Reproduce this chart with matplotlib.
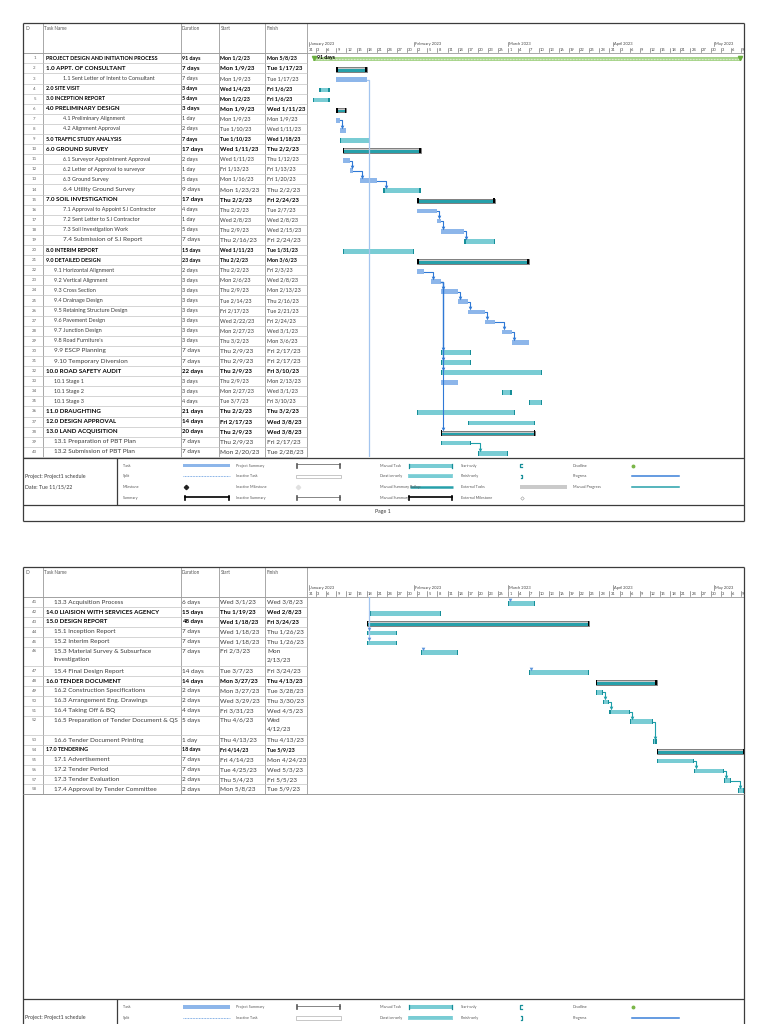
#!/usr/bin/python
import matplotlib
matplotlib.use('Agg')
from matplotlib import pyplot as plt
from matplotlib.patches import Rectangle
import matplotlib.dates as mdates
import pandas as pd

plt.rcParams['font.family'] = ['Lato', 'DejaVu Sans']

# ---------------- page 1 ----------------
ids1 = list(range(1, 41))
names1 = [
	'PROJECT DESIGN AND INITIATION PROCESS', '1.0 APPT. OF CONSULTANT',
	'1.1 Sent Letter of Intent to Consultant', '2.0 SITE VISIT', '3.0 INCEPTION REPORT',
	'4.0 PRELIMINARY DESIGN', '4.1 Preliminary Alignment', '4.2 Alignment Approval',
	'5.0 TRAFFIC STUDY ANALYSIS', '6.0 GROUND SURVEY', '6.1 Surveyor Appointment Approval',
	'6.2 Letter of Approval to surveyor', '6.3 Ground Survey', '6.4 Utility Ground Survey',
	'7.0 SOIL INVESTIGATION', '7.1 Approval to Appoint S.I Contractor',
	'7.2 Sent Letter to S.I Contractor', '7.3 Soil Investigation Work',
	'7.4 Submission of S.I Report', '8.0 INTERIM REPORT', '9.0 DETAILED DESIGN',
	'9.1 Horizontal Alignment', '9.2 Vertical Alignment', '9.3 Cross Section',
	'9.4 Drainage Design', '9.5 Retaining Structure Design', '9.6 Pavement Design',
	'9.7 Junction Design', "9.8 Road Furniture's", '9.9 ESCP Planning',
	'9.10 Temporary Diversion', '10.0 ROAD SAFETY AUDIT', '10.1 Stage 1', '10.1 Stage 2',
	'10.1 Stage 3', '11.0 DRAUGHTING', '12.0 DESIGN APPROVAL', '13.0 LAND ACQUISITION',
	'13.1 Preparation of PBT Plan', '13.2 Submission of PBT Plan',
]
durations1 = ['91 days', '7 days', '7 days', '3 days', '5 days', '3 days', '1 day', '2 days',
	'7 days', '17 days', '2 days', '1 day', '5 days', '9 days', '17 days', '4 days', '1 day',
	'5 days', '7 days', '15 days', '23 days', '2 days', '3 days', '3 days', '3 days', '3 days',
	'3 days', '3 days', '3 days', '7 days', '7 days', '22 days', '3 days', '3 days', '4 days',
	'21 days', '14 days', '20 days', '7 days', '7 days']
starts1 = ['Mon 1/2/23', 'Mon 1/9/23', 'Mon 1/9/23', 'Wed 1/4/23', 'Mon 1/2/23', 'Mon 1/9/23',
	'Mon 1/9/23', 'Tue 1/10/23', 'Tue 1/10/23', 'Wed 1/11/23', 'Wed 1/11/23', 'Fri 1/13/23',
	'Mon 1/16/23', 'Mon 1/23/23', 'Thu 2/2/23', 'Thu 2/2/23', 'Wed 2/8/23', 'Thu 2/9/23',
	'Thu 2/16/23', 'Wed 1/11/23', 'Thu 2/2/23', 'Thu 2/2/23', 'Mon 2/6/23', 'Thu 2/9/23',
	'Tue 2/14/23', 'Fri 2/17/23', 'Wed 2/22/23', 'Mon 2/27/23', 'Thu 3/2/23', 'Thu 2/9/23',
	'Thu 2/9/23', 'Thu 2/9/23', 'Thu 2/9/23', 'Mon 2/27/23', 'Tue 3/7/23', 'Thu 2/2/23',
	'Fri 2/17/23', 'Thu 2/9/23', 'Thu 2/9/23', 'Mon 2/20/23']
finishes1 = ['Mon 5/8/23', 'Tue 1/17/23', 'Tue 1/17/23', 'Fri 1/6/23', 'Fri 1/6/23',
	'Wed 1/11/23', 'Mon 1/9/23', 'Wed 1/11/23', 'Wed 1/18/23', 'Thu 2/2/23', 'Thu 1/12/23',
	'Fri 1/13/23', 'Fri 1/20/23', 'Thu 2/2/23', 'Fri 2/24/23', 'Tue 2/7/23', 'Wed 2/8/23',
	'Wed 2/15/23', 'Fri 2/24/23', 'Tue 1/31/23', 'Mon 3/6/23', 'Fri 2/3/23', 'Wed 2/8/23',
	'Mon 2/13/23', 'Thu 2/16/23', 'Tue 2/21/23', 'Fri 2/24/23', 'Wed 3/1/23', 'Mon 3/6/23',
	'Fri 2/17/23', 'Fri 2/17/23', 'Fri 3/10/23', 'Mon 2/13/23', 'Wed 3/1/23', 'Fri 3/10/23',
	'Thu 3/2/23', 'Wed 3/8/23', 'Wed 3/8/23', 'Fri 2/17/23', 'Tue 2/28/23']
# P project summary, S summary, A auto scheduled, M manually scheduled
kinds1 = 'PSAMMSAAMS' + 'AAAMSAAAMM' + 'SAAAAAAAAM' + 'MMAMMMMSMM'
# B bold large, b bold small, N normal large, n normal small
styles1 = 'bBnbbBnnbB' + 'nnnNBnnnNb' + 'bnnnnnnnnN' + 'NBnnnBBBNN'
levels1 = [0, 0, 2, 0, 0, 0, 2, 2, 0, 0, 2, 2, 2, 2, 0, 2, 2, 2, 2, 0,
	0, 1, 1, 1, 1, 1, 1, 1, 1, 1, 1, 0, 1, 1, 1, 0, 0, 0, 1, 1]
links1 = [(7, 8), (11, 12), (12, 13), (13, 14), (16, 17), (17, 18), (18, 19), (22, 23),
	(23, 24), (24, 25), (25, 26), (26, 27), (27, 28), (28, 29), (23, 30), (23, 31),
	(23, 32), (23, 38), (39, 40)]

# ---------------- page 2 ----------------
ids2 = list(range(41, 59))
names2 = ['13.3 Acquisition Process', '14.0 LIAISION WITH SERVICES AGENCY',
	'15.0 DESIGN REPORT', '15.1 Inception Report', '15.2 Interim Report',
	'15.3 Material Survey & Subsurface\nInvestigation', '15.4 Final Design Report',
	'16.0 TENDER DOCUMENT', '16.2 Construction Specifications',
	'16.3 Arrangement Eng. Drawings', '16.4 Taking Off & BQ',
	'16.5 Preparation of Tender Document & QS', '16.6 Tender Document Printing',
	'17.0 TENDERING', '17.1 Advertisement', '17.2 Tender Period', '17.3 Tender Evaluation',
	'17.4 Approval by Tender Committee']
durations2 = ['6 days', '15 days', '48 days', '7 days', '7 days', '7 days', '14 days',
	'14 days', '2 days', '2 days', '4 days', '5 days', '1 day', '18 days', '7 days', '7 days',
	'2 days', '2 days']
starts2 = ['Wed 3/1/23', 'Thu 1/19/23', 'Wed 1/18/23', 'Wed 1/18/23', 'Wed 1/18/23',
	'Fri 2/3/23', 'Tue 3/7/23', 'Mon 3/27/23', 'Mon 3/27/23', 'Wed 3/29/23', 'Fri 3/31/23',
	'Thu 4/6/23', 'Thu 4/13/23', 'Fri 4/14/23', 'Fri 4/14/23', 'Tue 4/25/23', 'Thu 5/4/23',
	'Mon 5/8/23']
finishes2 = ['Wed 3/8/23', 'Wed 2/8/23', 'Fri 3/24/23', 'Thu 1/26/23', 'Thu 1/26/23',
	'Mon\n2/13/23', 'Fri 3/24/23', 'Thu 4/13/23', 'Tue 3/28/23', 'Thu 3/30/23', 'Wed 4/5/23',
	'Wed\n4/12/23', 'Thu 4/13/23', 'Tue 5/9/23', 'Mon 4/24/23', 'Wed 5/3/23', 'Fri 5/5/23',
	'Tue 5/9/23']
kinds2 = 'MMSMMMMSMMMMMSMMMM'
styles2 = 'NBBNNNNBNNNNNbNNNN'
levels2 = [1, 0, 0, 1, 1, 1, 1, 0, 1, 1, 1, 1, 1, 0, 1, 1, 1, 1]
links2 = [(49, 50), (50, 51), (51, 52), (52, 53), (55, 56), (56, 57), (57, 58)]
offpage2 = [41, 46, 47]          # predecessors not on this page
carried = (3, [44, 45])          # link running from page 1 into page 2

legend_cols = [
	['Task', 'Split', 'Milestone', 'Summary'],
	['Project Summary', 'Inactive Task', 'Inactive Milestone', 'Inactive Summary'],
	['Manual Task', 'Duration-only', 'Manual Summary Rollup', 'Manual Summary'],
	['Start-only', 'Finish-only', 'External Tasks', 'External Milestone'],
	['Deadline', 'Progress', 'Manual Progress'],
]

# ---------------- layout / style ----------------
W, H = 768, 1024
X_L, X_R = 23.3, 744
COLS = [43, 180.7, 219, 265, 307]
JAN1_PX, PX_DAY = 309.3, 3.3725
FRAME = '#3c3c3c'
GRID = '#c4c4c4'
TXT = '#3a3a3a'
AUTO = '#8db6ea'
MAN = '#79ccd4'
MAN_E = '#168e98'
ROLL = '#27a0aa'
LINK_A = '#2f79d6'
LINK_M = '#1e9fa9'
FONT = {'B': (4.4, 'bold'), 'b': (3.9, 'bold'), 'N': (4.6, 'normal'), 'n': (4.0, 'normal')}
INDENT = [45.5, 53.5, 63]
BAR_H = 4.7


def day(s):
	return mdates.date2num(pd.to_datetime(s.split()[-1], format='%m/%d/%y'))


J1 = day('x 1/1/23')
xlo = J1 + (COLS[4] - JAN1_PX) / PX_DAY
xhi = J1 + (X_R - JAN1_PX) / PX_DAY

fig = plt.figure(figsize=(W / 100, H / 100), dpi=100)
base = fig.add_axes([0, 0, 1, 1])
base.set_xlim(0, W)
base.set_ylim(H, 0)
base.axis('off')


def hline(y, x0=X_L, x1=X_R, c=FRAME, lw=0.9):
	base.plot([x0, x1], [y, y], color=c, lw=lw, solid_capstyle='butt')


def vline(x, y0, y1, c=FRAME, lw=0.9):
	base.plot([x, x], [y0, y1], color=c, lw=lw, solid_capstyle='butt')


def row_geometry(top, names, fins, unit):
	tops, hts = [], []
	y = top
	for n, f in zip(names, fins):
		h = unit * (max(n.count('\n'), f.count('\n')) + 1)
		tops.append(y)
		hts.append(h)
		y += h
	return tops, hts, y


def draw_table(top, hdr, ids, names, durs, starts, fins, styles, levels, unit):
	tops, hts, bottom = row_geometry(hdr, names, fins, unit)
	for x in COLS:
		vline(x, top, bottom, c='#9a9a9a', lw=0.6)
	for t in tops + [bottom]:
		hline(t, X_L, COLS[4], c=GRID, lw=0.5)
	hline(hdr, X_L, X_R, c='#9a9a9a', lw=0.6)
	for lab, x in zip(['ID', 'Task Name', 'Duration', 'Start', 'Finish'],
			[25.5, 44.5, 182, 220.5, 267]):
		base.text(x, top + 2.5, lab, fontsize=3.3, color='#555555', va='top')
	for i in range(len(names)):
		size, weight = FONT[styles[i]]
		c = 'black' if weight == 'bold' else TXT
		base.text(34.5, tops[i] + unit / 2, str(ids[i]), fontsize=3.2, color='#666666',
			ha='center', va='center')
		cols = [(INDENT[levels[i]], names[i]), (182, durs[i]), (220.5, starts[i]), (267, fins[i])]
		for x, s in cols:
			for k, part in enumerate(s.split('\n')):
				base.text(x, tops[i] + unit / 2 + k * unit * 0.85, part, fontsize=size,
					fontweight=weight, color=c, va='center')
	return tops, hts, bottom


def make_gantt(top, bottom):
	g = fig.add_axes([COLS[4] / W, 1 - bottom / H, (X_R - COLS[4]) / W, (bottom - top) / H])
	g.set_xlim(xlo, xhi)
	g.set_ylim(bottom, top)
	g.axis('off')
	g.patch.set_visible(False)
	return g


def timescale(g, top):
	months = pd.date_range('2023-01-01', '2023-05-31', freq='MS')
	for m in months:
		x = mdates.date2num(m)
		g.plot([x, x], [top + 18.3, top + 23], color='#555555', lw=0.4)
		g.text(x + 0.3, top + 20.8, m.strftime('%B %Y'), fontsize=2.9, color='#444444',
			va='center', clip_on=True)
	for d in pd.date_range('2022-12-31', '2023-05-12', freq='3D'):
		x = mdates.date2num(d)
		g.plot([x, x], [top + 24.3, top + 29], color='#555555', lw=0.4)
		g.text(max(x, xlo + 0.35) + 0.3, top + 26.7, str(d.day), fontsize=2.9,
			color='#444444', va='center', clip_on=True)


def draw_bars(g, kinds, starts, fins, tops, unit):
	ys, ytop, s0, s1 = [], [], [], []
	for i in range(len(kinds)):
		a, b = day(starts[i]), day(fins[i]) + 1
		y = tops[i] + unit * 0.63
		ys.append(y)
		ytop.append(y - BAR_H / 2)
		s0.append(a)
		s1.append(b)
		k = kinds[i]
		if k == 'A':
			g.barh(y, b - a, left=a, height=BAR_H, color=AUTO, lw=0)
		elif k == 'M':
			g.barh(y, b - a, left=a, height=BAR_H, color=MAN, lw=0)
			g.barh(y, 0.35, left=a, height=BAR_H, color=MAN_E, lw=0)
			g.barh(y, 0.35, left=b - 0.35, height=BAR_H, color=MAN_E, lw=0)
		elif k == 'S':
			g.barh(y, b - a, left=a, height=BAR_H, color='#c8c8c8', edgecolor='#333333', lw=0.4)
			g.barh(y + BAR_H * 0.2, b - a, left=a, height=BAR_H * 0.6, color=ROLL, lw=0)
			g.barh(y, 0.4, left=a, height=BAR_H + 0.4, color='black', lw=0)
			g.barh(y, 0.4, left=b - 0.4, height=BAR_H + 0.4, color='black', lw=0)
		elif k == 'P':
			g.barh(y - 0.6, b - a, left=a, height=3.4, color='#a6d38a', lw=0)
			g.plot([a, b], [y - 0.6, y - 0.6], color='#e9f5df', lw=0.9, ls=(0, (0.6, 0.6)))
			g.plot([a + 0.3, b - 0.3], [y - 1.2, y - 1.2], ls='none', marker='v', ms=3,
				color='#6aae3f')
			g.text(a + 1.2, y - 2.6, durations1[i], fontsize=3.8, fontweight='bold',
				color='black', va='center')
	return ys, ytop, s0, s1


def draw_link(g, geo, first_id, p, s, color):
	ys, ytop, s0, s1 = geo
	i, j = p - first_id, s - first_id
	xv = max(s1[i], s0[j]) + 0.6
	g.plot([s1[i], xv, xv], [ys[i], ys[i], ytop[j] - 1.5], color=color, lw=0.8)
	g.plot([xv], [ytop[j] - 1.3], marker='v', ms=2.6, color=color, mew=0)


def draw_legend(top):
	hline(top)
	hline(top + 47.3)
	vline(116.7, top, top + 47.3)
	for k, s in enumerate(['Project: Project1 schedule', 'Date: Tue 11/15/22']):
		if top + 19 + 10 * k < H - 3:
			base.text(25, top + 19 + 10 * k, s, fontsize=3.8, color=TXT, va='center')
	ry = [top + 8 + r * 10.7 for r in range(4)]
	nrows = sum(1 for v in ry if v < H - 3)
	lab_x = [123, 236, 380, 461, 572.7]
	for c, labels in enumerate(legend_cols):
		for r, lab in enumerate(labels[:nrows]):
			base.text(lab_x[c], ry[r], lab, fontsize=2.7, color='#555555', va='center')
	# row 0
	base.add_patch(Rectangle((183, ry[0] - 1.8), 47, 3.6, color=AUTO, lw=0))
	base.add_patch(Rectangle((409, ry[0] - 1.9), 43.5, 3.8, color=MAN, lw=0))
	base.plot([409.3, 409.3], [ry[0] - 1.9, ry[0] + 1.9], color=MAN_E, lw=0.9)
	base.plot([452.2, 452.2], [ry[0] - 1.9, ry[0] + 1.9], color=MAN_E, lw=0.9)
	base.plot([521.5, 520, 520, 521.5], [ry[0] - 1.8, ry[0] - 1.8, ry[0] + 1.8, ry[0] + 1.8],
		color=MAN_E, lw=0.9)
	base.plot([633], [ry[0]], marker='o', ms=1.8, color='#7ab648')
	brackets = [(297, 340, ry[0], '#555555')]
	# row 1
	base.plot([183, 230], [ry[1], ry[1]], color='#6a9fe0', lw=0.7, ls=(0, (0.8, 0.8)))
	base.add_patch(Rectangle((296, ry[1] - 1.8), 45, 3.6, facecolor='white',
		edgecolor='#b0b0b0', lw=0.5))
	base.add_patch(Rectangle((408, ry[1] - 1.9), 45, 3.8, color='#8dd5db', lw=0))
	base.add_patch(Rectangle((409, ry[1] - 1.3), 43, 2.6, color=MAN, lw=0))
	base.plot([520.5, 522, 522, 520.5], [ry[1] - 1.8, ry[1] - 1.8, ry[1] + 1.8, ry[1] + 1.8],
		color=MAN_E, lw=0.9)
	base.plot([632, 679], [ry[1], ry[1]], color='#3a80d8', lw=1.1)
	if nrows > 2:
		# row 2
		base.plot([185.5], [ry[2]], marker='D', ms=2.2, color='#222222')
		base.plot([298], [ry[2]], marker='D', ms=2.2, color='#e0e0e0')
		base.plot([410, 453], [ry[2], ry[2]], color=ROLL, lw=1.8, solid_capstyle='butt')
		base.add_patch(Rectangle((520, ry[2] - 2.2), 47, 4.4, color='#cacaca', lw=0))
		base.plot([632, 679], [ry[2], ry[2]], color=ROLL, lw=1.1)
		# row 3
		base.plot([522], [ry[3]], marker='D', ms=1.8, mfc='white', mec='#999999', mew=0.4)
		brackets += [(185, 229, ry[3], 'black'), (409, 452, ry[3], 'black'),
			(297, 340, ry[3], '#555555')]
	for x0, x1, yy, col in brackets:
		base.plot([x0, x1], [yy - 1.2, yy - 1.2], color=col, lw=1.2 if col == 'black' else 0.5)
		base.plot([x0, x0], [yy - 1.8, yy + 2], color=col, lw=1.2)
		base.plot([x1, x1], [yy - 1.8, yy + 2], color=col, lw=1.2)


# ================= page 1 =================
P1_TOP, P1_HDR, P1_BOT = 23.3, 53.3, 521
tops1, hts1, tbl1 = draw_table(P1_TOP, P1_HDR, ids1, names1, durations1, starts1, finishes1,
	styles1, levels1, 10.09)
g1 = make_gantt(P1_TOP, tbl1)
timescale(g1, P1_TOP)
geo1 = draw_bars(g1, kinds1, starts1, finishes1, tops1, 10.09)
for p, s in links1:
	draw_link(g1, geo1, 1, p, s, LINK_A if kinds1[p - 1] == 'A' else LINK_M)
# long link leaving page 1 from task 3
pi = carried[0] - 1
xv = geo1[3][pi] + 0.6
g1.plot([geo1[3][pi], xv, xv], [geo1[0][pi], geo1[0][pi], tbl1], color='#a3c5ef', lw=0.9)

vline(X_L, P1_TOP, P1_BOT)
vline(X_R, P1_TOP, P1_BOT)
hline(P1_TOP)
hline(P1_BOT)
draw_legend(tbl1 + 0.8)
base.text(383, 512, 'Page 1', fontsize=3.8, color=TXT, ha='center', va='center')

# ================= page 2 =================
P2_TOP, P2_HDR = 567, 597.3
tops2, hts2, tbl2 = draw_table(P2_TOP, P2_HDR, ids2, names2, durations2, starts2, finishes2,
	styles2, levels2, 9.85)
g2 = make_gantt(P2_TOP, tbl2)
timescale(g2, P2_TOP)
geo2 = draw_bars(g2, kinds2, starts2, finishes2, tops2, 9.85)
for p, s in links2:
	draw_link(g2, geo2, 41, p, s, LINK_M)
for t in offpage2:
	j = t - 41
	g2.plot([geo2[2][j] + 0.6], [geo2[1][j] - 1.3], marker='v', ms=2.6, color='#5b93dc', mew=0)
last = carried[1][-1] - 41
g2.plot([xv, xv], [P2_HDR, geo2[1][last] - 1.5], color='#a3c5ef', lw=0.9)
for t in carried[1]:
	j = t - 41
	g2.plot([xv], [geo2[1][j] - 1.3], marker='v', ms=2.6, color='#5b93dc', mew=0)

hline(P2_TOP)
vline(X_L, P2_TOP, H + 5)
vline(X_R, P2_TOP, H + 5)
hline(tbl2, c='#9a9a9a', lw=0.7)
draw_legend(999)

fig.savefig('out.png', dpi=100)
